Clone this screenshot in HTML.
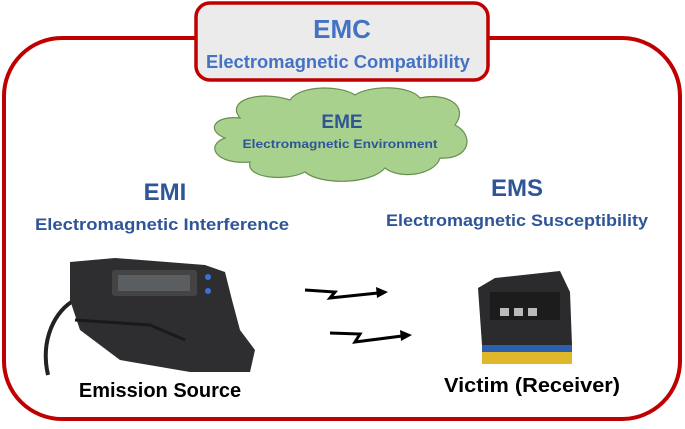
<!DOCTYPE html>
<html><head><style>
body{margin:0;width:685px;height:424px;background:#fff;overflow:hidden;font-family:"Liberation Sans",sans-serif;}
</style></head><body>
<svg width="685" height="424" viewBox="0 0 685 424" xmlns="http://www.w3.org/2000/svg" font-family="Liberation Sans, sans-serif" font-weight="bold">
<rect x="4" y="38" width="676" height="381" rx="58" fill="#fff" stroke="#c00000" stroke-width="4"/>
<rect x="196" y="3" width="292" height="77" rx="14" fill="#ebebeb" stroke="#c00000" stroke-width="3.5"/>
<text x="342" y="38" text-anchor="middle" font-size="26" fill="#4472c4">EMC</text>
<text x="338" y="68" text-anchor="middle" font-size="18" fill="#4472c4" textLength="264" lengthAdjust="spacingAndGlyphs">Electromagnetic Compatibility</text>
<path d="M240,118 C225,100 260,90 290,100 C300,85 340,85 355,95 C370,85 410,85 420,98 C445,92 470,105 455,125 C475,135 470,160 440,158 C435,175 400,180 385,168 C370,185 320,185 305,172 C285,182 245,178 250,162 C215,165 205,145 225,138 C205,130 215,115 240,118 Z" fill="#a9d18e" stroke="#6a8f50" stroke-width="1.2"/>
<text x="342" y="128" text-anchor="middle" font-size="19" fill="#2f5597">EME</text>
<text x="340" y="148" text-anchor="middle" font-size="12" fill="#2f5597" textLength="195" lengthAdjust="spacingAndGlyphs">Electromagnetic Environment</text>
<text x="165" y="200" text-anchor="middle" font-size="24" fill="#2f5597">EMI</text>
<text x="162" y="230" text-anchor="middle" font-size="17" fill="#2f5597" textLength="254" lengthAdjust="spacingAndGlyphs">Electromagnetic Interference</text>
<text x="517" y="196" text-anchor="middle" font-size="24" fill="#2f5597">EMS</text>
<text x="517" y="226" text-anchor="middle" font-size="17" fill="#2f5597" textLength="262" lengthAdjust="spacingAndGlyphs">Electromagnetic Susceptibility</text>
<!-- emission device -->
<path d="M48,375 C40,340 55,310 75,300" fill="none" stroke="#222" stroke-width="4"/>
<path d="M70,262 L115,258 L205,265 L225,272 L232,300 L240,330 L255,350 L250,372 L190,372 L120,360 L80,330 L70,300 Z" fill="#2e2e30"/>
<rect x="112" y="270" width="85" height="26" rx="3" fill="#444"/>
<rect x="118" y="275" width="72" height="16" fill="#5a5e60"/>
<circle cx="208" cy="277" r="3" fill="#3a6fd8"/><circle cx="208" cy="291" r="3" fill="#3a6fd8"/>
<path d="M75,320 L150,325 L185,340" fill="none" stroke="#1a1a1a" stroke-width="3"/>
<text x="160" y="397" text-anchor="middle" font-size="20" fill="#000">Emission Source</text>
<!-- arrows -->
<path d="M305,290 L335,292 L330,298 L378,293" fill="none" stroke="#000" stroke-width="3"/>
<path d="M388,292 L376,287 L377,298 Z" fill="#000"/>
<path d="M330,333 L360,334 L355,342 L402,336" fill="none" stroke="#000" stroke-width="3"/>
<path d="M412,335 L400,330 L401,341 Z" fill="#000"/>
<!-- victim -->
<path d="M478,288 L495,278 L560,271 L570,292 L572,345 L482,345 Z" fill="#2b2b2d"/>
<rect x="490" y="292" width="70" height="28" fill="#1c1c1c"/>
<rect x="500" y="308" width="9" height="8" fill="#bbb"/><rect x="514" y="308" width="9" height="8" fill="#bbb"/><rect x="528" y="308" width="9" height="8" fill="#bbb"/>
<rect x="482" y="345" width="90" height="7" fill="#2d5fb0"/>
<rect x="482" y="352" width="90" height="12" fill="#e0b62a"/>
<text x="532" y="392" text-anchor="middle" font-size="20" fill="#000" textLength="176" lengthAdjust="spacingAndGlyphs">Victim (Receiver)</text>
</svg>
</body></html>
